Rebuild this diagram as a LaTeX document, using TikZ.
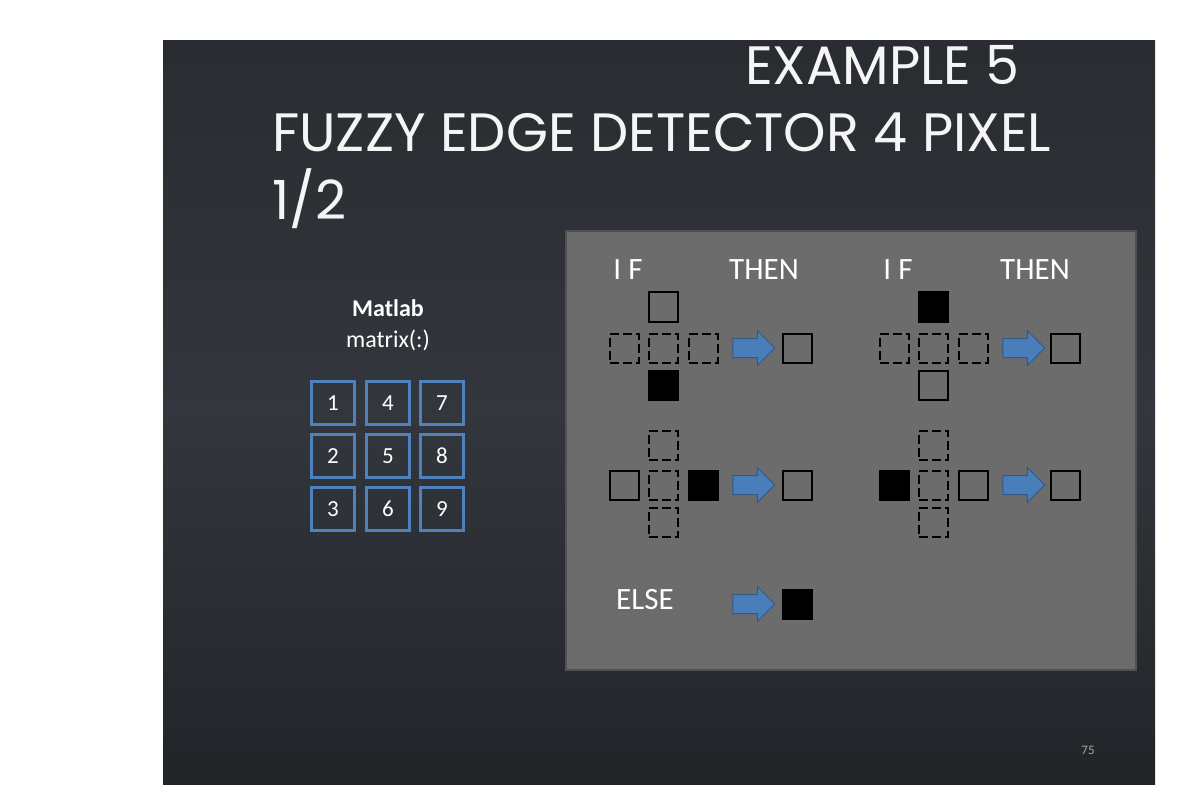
\documentclass[tikz,border=0pt]{standalone}
\usepackage{fontspec}
\setmainfont{Carlito}
\newfontfamily\titlefont{Poppins}
\usetikzlibrary{shapes.arrows}
\definecolor{slidebg}{HTML}{33373D}
\definecolor{boxbg}{HTML}{6C6C6C}
\definecolor{boxline}{HTML}{505050}
\definecolor{numblue}{HTML}{4F81BD}
\definecolor{arrblue}{HTML}{4A7EBB}
\tikzset{x=1pt,y=-1pt,
  sq/.style={draw=black,line width=2pt,minimum size=29pt,inner sep=0pt},
  dsq/.style={sq,dash pattern=on 9pt off 4pt},
  bsq/.style={sq,fill=black},
  numbox/.style={draw=numblue,line width=2.2pt,minimum size=43pt,inner sep=0pt,text=white,font=\fontsize{23}{23}\selectfont},
  barrow/.style={single arrow,fill=arrblue,draw=arrblue!70!black,line width=1pt,minimum height=42pt,inner xsep=0pt,inner ysep=0pt,text height=18pt,text depth=0pt,text width=0pt,single arrow head extend=8pt},
  hdr/.style={text=white,font=\fontsize{31}{31}\selectfont},
  ttl/.style={text=white!92!gray,font=\titlefont\fontsize{54}{54}\selectfont,anchor=base west,inner sep=0pt}}
\begin{document}
\begin{tikzpicture}
\useasboundingbox (0,0) rectangle (1199,802);
\fill[white] (0,0) rectangle (1199,802);
\shade[top color=slidebg!80!black,bottom color=slidebg!65!black,middle color=slidebg] (163,41) rectangle (1155,784);
\node[ttl,anchor=base east] (t1) at (1020,85) {EXAMPLE 5};
\node[ttl] (t2) at (272,152) {FUZZY EDGE DETECTOR 4 PIXEL};
\node[ttl] (t3) at (272,220) {1/2};
\node[text=white,font=\bfseries\fontsize{24}{24}\selectfont] (ml) at (388,308) {Matlab};
\node[text=white,font=\fontsize{24}{24}\selectfont] (mx) at (388,340) {matrix(:)};
\foreach \n/\x/\y in {1/333/403,4/388/403,7/442/403,2/333/456,5/388/456,8/442/456,3/333/509,6/388/509,9/442/509}
  \node[numbox] (n\n) at (\x,\y) {\n};
\draw[boxline,fill=boxbg,line width=1.2pt] (566,231) rectangle (1136,670);
\node[hdr] (h1) at (628,270) {I F};
\node[hdr] (h2) at (764,270) {THEN};
\node[hdr] (h3) at (898,270) {I F};
\node[hdr] (h4) at (1035,270) {THEN};
% left row 1
\node[sq] (a1) at (663,307) {};
\node[dsq] (a2) at (624,348) {};
\node[dsq] (a3) at (663,348) {};
\node[dsq] (a4) at (703,348) {};
\node[bsq] (a5) at (663,385) {};
\node[barrow] (a6) at (749,348) {};
\node[sq] (a7) at (797,348) {};
% left row 2
\node[dsq] (b1) at (663,445) {};
\node[sq] (b2) at (624,485) {};
\node[dsq] (b3) at (663,485) {};
\node[bsq] (b4) at (703,485) {};
\node[dsq] (b5) at (663,522) {};
\node[barrow] (b6) at (749,485) {};
\node[sq] (b7) at (797,485) {};
% right row 1
\node[bsq] (c1) at (933,307) {};
\node[dsq] (c2) at (894,348) {};
\node[dsq] (c3) at (933,348) {};
\node[dsq] (c4) at (973,348) {};
\node[sq] (c5) at (933,385) {};
\node[barrow] (c6) at (1019,348) {};
\node[sq] (c7) at (1065,348) {};
% right row 2
\node[dsq] (d1) at (933,445) {};
\node[bsq] (d2) at (894,485) {};
\node[dsq] (d3) at (933,485) {};
\node[sq] (d4) at (973,485) {};
\node[dsq] (d5) at (933,522) {};
\node[barrow] (d6) at (1019,485) {};
\node[sq] (d7) at (1065,485) {};
% else
\node[hdr] (e1) at (645,600) {ELSE};
\node[barrow] (e2) at (749,604) {};
\node[bsq] (e3) at (797,604) {};
\node[text=gray!70,font=\fontsize{13}{13}\selectfont] (pg) at (1088,750) {75};
\end{tikzpicture}
\end{document}
